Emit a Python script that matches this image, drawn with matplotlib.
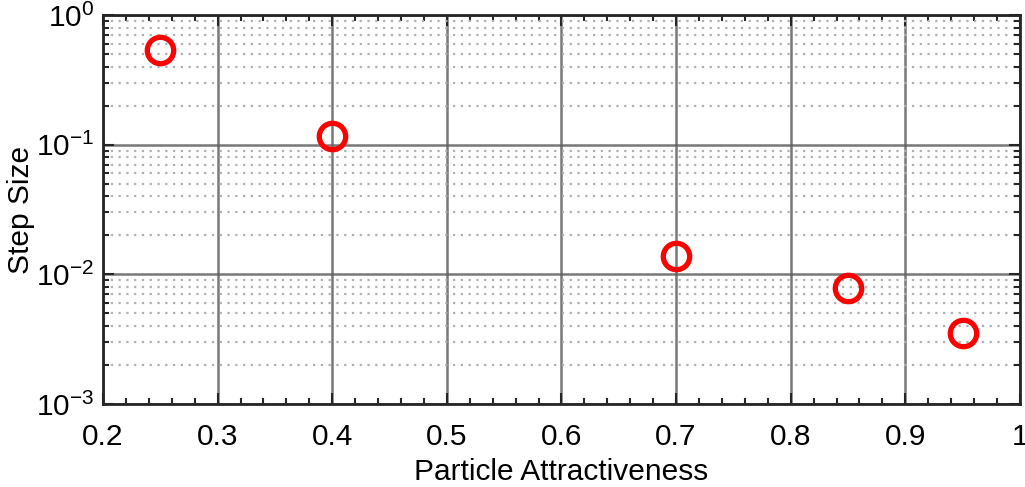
import numpy as np
import matplotlib
matplotlib.use("Agg")
import matplotlib.pyplot as plt
from matplotlib.ticker import LogLocator, MultipleLocator, FixedLocator

plt.rcParams['font.family'] = ['Liberation Sans', 'DejaVu Sans']
plt.rcParams['mathtext.fontset'] = 'custom'
plt.rcParams['mathtext.rm'] = 'Liberation Sans'

# data
attractiveness = [0.25, 0.40, 0.70, 0.85, 0.95]
step_size = [0.54, 0.117, 0.0138, 0.0079, 0.0035]
x_ticks = [0.2, 0.3, 0.4, 0.5, 0.6, 0.7, 0.8, 0.9, 1.0]
x_ticklabels = ['0.2', '0.3', '0.4', '0.5', '0.6', '0.7', '0.8', '0.9', '1']

fig = plt.figure(figsize=(10.25, 4.87), dpi=100)
ax = fig.add_axes([0.1005, 0.1705, 0.8945, 0.7985])

ax.plot(attractiveness, step_size, linestyle='none', marker='o',
        markersize=19, markerfacecolor='none', markeredgecolor='#ff0000',
        markeredgewidth=3.8, zorder=5)

ax.set_yscale('log')
ax.set_xlim(0.2, 1.0)
ax.set_ylim(1e-3, 1e0)

ax.xaxis.set_major_locator(FixedLocator(x_ticks))
ax.set_xticklabels(x_ticklabels)
ax.xaxis.set_minor_locator(MultipleLocator(0.02))
ax.yaxis.set_major_locator(LogLocator(base=10, numticks=10))
ax.yaxis.set_minor_locator(LogLocator(base=10, subs=np.arange(2, 10), numticks=20))

# grid: solid major, dotted minor on y only
ax.grid(which='major', axis='both', color='#606060', linewidth=1.8, alpha=0.85)
ax.grid(which='minor', axis='y', color='#b0b0b0', linestyle=(0, (1, 2.5)), linewidth=1.6)

ax.tick_params(which='both', direction='in', top=True, right=True,
               color='#262626', labelsize=21.5)
ax.tick_params(which='major', length=8, width=1.5)
ax.tick_params(which='minor', length=4, width=1.5)
ax.tick_params(axis='x', pad=14)
ax.tick_params(axis='y', pad=6)
for s in ax.spines.values():
    s.set_linewidth(2)
    s.set_color('#262626')

ax.set_xlabel('Particle Attractiveness', fontsize=21.5, labelpad=5)
ax.set_ylabel('Step Size', fontsize=21.5, labelpad=1)

fig.savefig('out.png', dpi=100)
